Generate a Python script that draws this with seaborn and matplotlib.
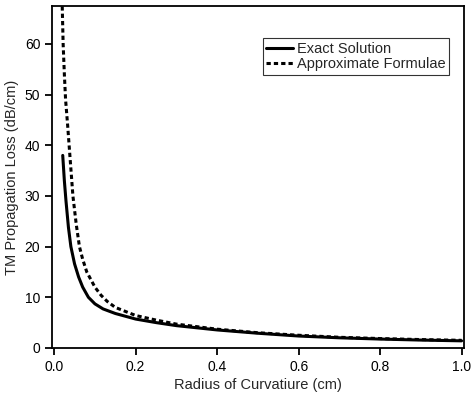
import matplotlib
matplotlib.use("Agg")
import matplotlib.pyplot as plt
import seaborn as sns
import pandas as pd

exact_x = [0.021, 0.025, 0.029, 0.035, 0.041, 0.05, 0.06, 0.07, 0.084, 0.1, 0.12, 0.15, 0.2, 0.25, 0.3,
           0.4, 0.5, 0.6, 0.7, 0.8, 0.9, 1.0]
exact_y = [38.0, 33.0, 29.0, 23.8, 20.0, 16.6, 14.0, 12.0, 10.0, 8.7, 7.7, 6.8, 5.7, 5.0, 4.4,
           3.55, 2.9, 2.35, 2.0, 1.75, 1.55, 1.4]

approx_x = [0.019, 0.022, 0.025, 0.028, 0.033, 0.0376, 0.046, 0.054, 0.062, 0.07, 0.08, 0.1, 0.115,
            0.13, 0.15, 0.2, 0.25, 0.3, 0.4, 0.5, 0.6, 0.7, 0.8, 0.9, 1.0]
approx_y = [70.0, 60.0, 54.0, 49.0, 44.0, 39.0, 30.0, 24.5, 20.0, 17.5, 15.0, 12.0, 10.4,
            9.2, 8.0, 6.4, 5.5, 4.7, 3.7, 3.0, 2.5, 2.1, 1.85, 1.65, 1.5]

x_ticks = [0.0, 0.2, 0.4, 0.6, 0.8, 1.0]
y_ticks = [0, 10, 20, 30, 40, 50, 60]

sns.set_style("ticks")
plt.rcParams['font.family'] = ['Liberation Sans', 'DejaVu Sans']
plt.rcParams['font.size'] = 10

fig = plt.figure(figsize=(4.74, 3.99), dpi=100)
ax = fig.add_axes([0.110, 0.128, 0.869, 0.857])

df_exact = pd.DataFrame({"x": exact_x, "y": exact_y})
df_approx = pd.DataFrame({"x": approx_x, "y": approx_y})

sns.lineplot(data=df_exact, x="x", y="y", ax=ax, color="black", lw=2.2,
             label="Exact Solution", estimator=None, sort=False)
sns.lineplot(data=df_approx, x="x", y="y", ax=ax, color="black", lw=2.2,
             linestyle=(0, (1.4, 1.0)), label="Approximate Formulae",
             estimator=None, sort=False)

ax.set_xlim(-0.005, 1.006)
ax.set_ylim(0, 67.5)
ax.set_xticks(x_ticks)
ax.set_xticklabels([f"{v:.1f}" for v in x_ticks])
ax.set_yticks(y_ticks)
ax.set_xlabel("Radius of Curvatiure (cm)", fontsize=10.5, labelpad=3)
ax.set_ylabel("TM Propagation Loss (dB/cm)", fontsize=10.5, labelpad=4)
for s in ax.spines.values():
    s.set_visible(True)
    s.set_linewidth(1.3)
    s.set_color("black")
ax.tick_params(direction="out", length=5, width=1.3, colors="black", labelsize=10)

leg = ax.legend(loc="upper right", bbox_to_anchor=(0.964, 0.906), frameon=True,
                fancybox=False, handlelength=1.8, handletextpad=0.3,
                borderpad=0.25, labelspacing=0.1, fontsize=10.5, borderaxespad=0)
leg.get_frame().set_edgecolor("black")
leg.get_frame().set_linewidth(0.8)

fig.savefig("out.png", dpi=100)
